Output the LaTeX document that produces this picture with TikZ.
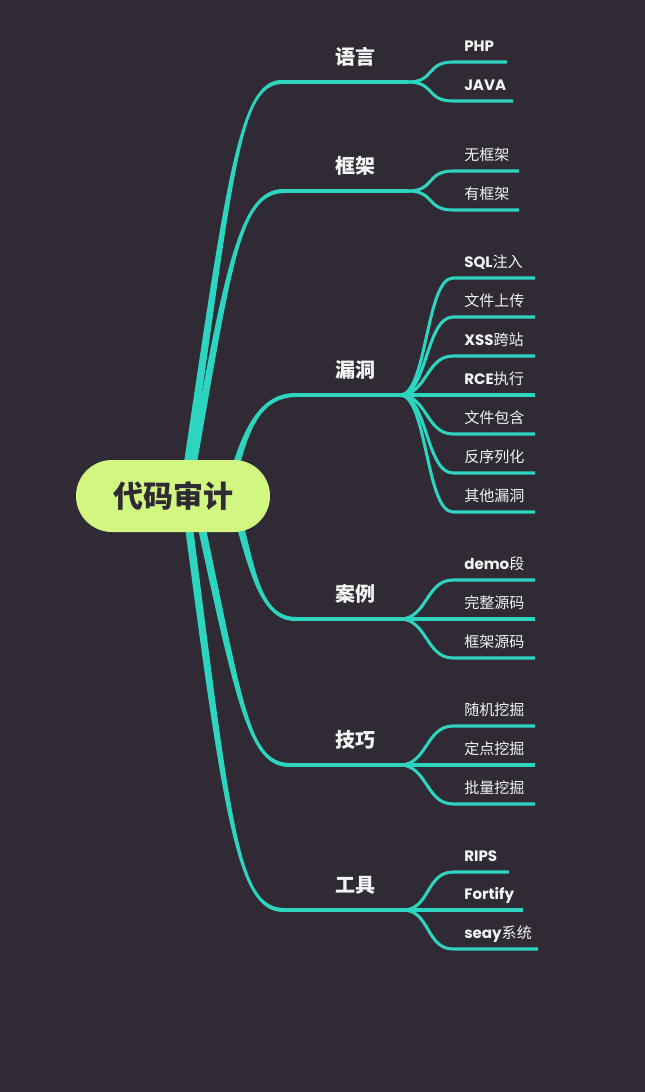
\documentclass[tikz,border=0pt]{standalone}
\usepackage{fontspec}
\newfontfamily\cjk{Noto Sans CJK SC}
\newfontfamily\lat{Poppins}
\usetikzlibrary{calc}
\definecolor{bgc}{HTML}{2F2A33}
\definecolor{brc}{HTML}{2DD4BF}
\definecolor{rootc}{HTML}{D2F682}
\definecolor{txtc}{HTML}{F4F4F4}
\tikzset{
  mainlbl/.style={text=txtc, font=\cjk\bfseries\fontsize{15pt}{18pt}\selectfont, anchor=base, inner sep=0pt},
  sublbl/.style={text=txtc, font=\cjk\fontsize{11.3pt}{14pt}\selectfont, anchor=base west, inner sep=0pt},
  subline/.style={draw=brc, line width=2.3pt},
  mainline/.style={draw=brc, line width=3.1pt},
  rootbox/.style={fill=rootc, rounded corners=27pt, minimum width=145.5pt, minimum height=54pt, inner sep=0pt, text=bgc, font=\cjk\bfseries\fontsize{22.5pt}{26pt}\selectfont, text height=18.6pt, text depth=1.6pt},
}
\newcommand\latb[1]{{\lat\bfseries #1}}
\newcommand\mytrunk[4]{%
  \fill[brc] ($(#1)!3pt!90:(#2)$) .. controls ($(#2)!2.7pt!-90:(#1)$) and ($(#3)!1.7pt!90:(#4)$) .. ($(#4)!1.55pt!-90:(#3)$)
    -- ($(#4)!1.55pt!90:(#3)$) .. controls ($(#3)!1.7pt!-90:(#4)$) and ($(#2)!2.7pt!90:(#1)$) .. ($(#1)!3pt!-90:(#2)$) -- cycle;
}
\newcommand\subbr[5]{%
  \coordinate (#4a) at (453,#2);
  \coordinate (#4b) at (#3,#2);
  \draw[subline] (#1) .. controls ($(#1)+(27,0)$) and ($(#4a)+(-27,0)$) .. (#4a) -- (#4b);
  \node[sublbl] (#4) at (464,#2-10.5) {#5};
}
\begin{document}
\begin{tikzpicture}[x=0.75pt,y=-0.75pt]
\useasboundingbox (0,0) rectangle (644,1092);
\fill[bgc] (-6,-6) rectangle (650,1098);
% trunk coordinates
\coordinate (a0) at (183,496); \coordinate (a1) at (230,180); \coordinate (a2) at (238,82);  \coordinate (a3) at (282,82);  \coordinate (aS) at (408,82);
\coordinate (b0) at (187,496); \coordinate (b1) at (228,270); \coordinate (b2) at (238,191); \coordinate (b3) at (284,191); \coordinate (bS) at (408,191);
\coordinate (c0) at (228,496); \coordinate (c1) at (242,440); \coordinate (c2) at (255,395); \coordinate (c3) at (296,395); \coordinate (cS) at (400,395);
\coordinate (d0) at (232,496); \coordinate (d1) at (252,565); \coordinate (d2) at (258,619); \coordinate (d3) at (296,619); \coordinate (dS) at (400,619);
\coordinate (e0) at (195,496); \coordinate (e1) at (240,705); \coordinate (e2) at (248,765); \coordinate (e3) at (290,765); \coordinate (eS) at (400,765);
\coordinate (f0) at (185,496); \coordinate (f1) at (228,830); \coordinate (f2) at (238,910); \coordinate (f3) at (284,910); \coordinate (fS) at (403,910);
\mytrunk{a0}{a1}{a2}{a3}
\mytrunk{b0}{b1}{b2}{b3}
\mytrunk{c0}{c1}{c2}{c3}
\mytrunk{d0}{d1}{d2}{d3}
\mytrunk{e0}{e1}{e2}{e3}
\mytrunk{f0}{f1}{f2}{f3}
\draw[mainline] (a3) -- (aS);
\draw[mainline] (b3) -- (bS);
\draw[mainline] (c3) -- (cS);
\draw[mainline] (d3) -- (dS);
\draw[mainline] (e3) -- (eS);
\draw[mainline] (f3) -- (fS);
% main labels
\node[mainlbl] (La) at (355,82-17.5) {语言};
\node[mainlbl] (Lb) at (355,191-17.5) {框架};
\node[mainlbl] (Lc) at (355,395-17.5) {漏洞};
\node[mainlbl] (Ld) at (355,619-17.5) {案例};
\node[mainlbl] (Le) at (355,765-17.5) {技巧};
\node[mainlbl] (Lf) at (355,910-17.5) {工具};
% sub branches
\subbr{aS}{62}{507}{sa1}{\latb{PHP}}
\subbr{aS}{101}{513}{sa2}{\latb{JAVA}}
\subbr{bS}{171}{519}{sb1}{无框架}
\subbr{bS}{210}{519}{sb2}{有框架}
\subbr{cS}{278}{535}{sc1}{\latb{SQL}注入}
\subbr{cS}{317}{535}{sc2}{文件上传}
\subbr{cS}{356}{535}{sc3}{\latb{XSS}跨站}
\subbr{cS}{395}{535}{sc4}{\latb{RCE}执行}
\subbr{cS}{434}{535}{sc5}{文件包含}
\subbr{cS}{473}{535}{sc6}{反序列化}
\subbr{cS}{512}{535}{sc7}{其他漏洞}
\subbr{dS}{580}{535}{sd1}{\latb{demo}段}
\subbr{dS}{619}{535}{sd2}{完整源码}
\subbr{dS}{658}{535}{sd3}{框架源码}
\subbr{eS}{726}{535}{se1}{随机挖掘}
\subbr{eS}{765}{535}{se2}{定点挖掘}
\subbr{eS}{804}{535}{se3}{批量挖掘}
\subbr{fS}{872}{509}{sf1}{\latb{RIPS}}
\subbr{fS}{910}{523}{sf2}{\latb{Fortify}}
\subbr{fS}{949}{538}{sf3}{\latb{seay}系统}
% root
\node[rootbox] (root) at (173,496) {代码审计};
\end{tikzpicture}
\end{document}
